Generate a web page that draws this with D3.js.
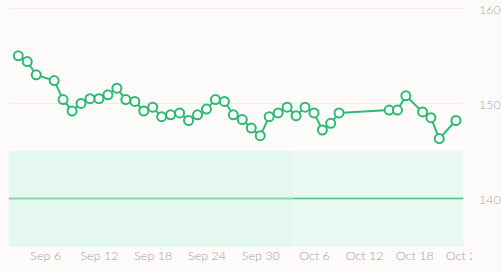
<!DOCTYPE html>
<html>
<head>
<meta charset="utf-8">
<script src="https://cdn.jsdelivr.net/npm/d3@7"></script>
<style>
  html, body { margin: 0; padding: 0; background: #fdfbfa; }
  svg { display: block; font-family: Lato, "Noto Sans", sans-serif; }
</style>
</head>
<body>
<svg id="chart" width="502" height="271"></svg>
<script>
// values (one point per day, some days missing)
const dates = ['2023-09-03','2023-09-04','2023-09-05','2023-09-07','2023-09-08','2023-09-09','2023-09-10',
  '2023-09-11','2023-09-12','2023-09-13','2023-09-14','2023-09-15','2023-09-16','2023-09-17','2023-09-18',
  '2023-09-19','2023-09-20','2023-09-21','2023-09-22','2023-09-23','2023-09-24','2023-09-25','2023-09-26',
  '2023-09-27','2023-09-28','2023-09-29','2023-09-30','2023-10-01','2023-10-02','2023-10-03','2023-10-04',
  '2023-10-05','2023-10-06','2023-10-07','2023-10-08','2023-10-09','2023-10-15','2023-10-16','2023-10-17',
  '2023-10-19','2023-10-20','2023-10-21','2023-10-23']
const values = [155.0, 154.4, 153.0, 152.4, 150.4, 149.2, 150.0,
  150.5, 150.5, 150.9, 151.6, 150.4, 150.2, 149.2, 149.6,
  148.6, 148.8, 149.0, 148.2, 148.8, 149.4, 150.4, 150.2,
  148.8, 148.3, 147.4, 146.6, 148.6, 149.0, 149.6, 148.7,
  149.6, 149.0, 147.2, 147.9, 149.0, 149.3, 149.3, 150.8,
  149.1, 148.5, 146.3, 148.2]

// target band and target line
const bandLow = 135
const bandHigh = 145
const targetValue = 140
const bandShadeSplit = '2023-10-03T17:00'

const yTicks = [140, 150, 160]
const xTicks = ['2023-09-06','2023-09-12','2023-09-18','2023-09-24','2023-09-30',
  '2023-10-06','2023-10-12','2023-10-18','2023-10-24']

const parseDay = d3.isoParse
const data = dates.map((d, i) => ({date: parseDay(d), value: values[i]}))

const svg = d3.select('#chart')
const plotLeft = 8.7, plotRight = 463.3, plotTop = 8, plotBottom = 246.5

// the source axis is squeezed after Oct 6, so the time scale has two segments
const xScale = d3.scaleTime()
  .domain([parseDay('2023-09-03'), parseDay('2023-10-06'), parseDay('2023-10-24')])
  .range([18.3, 314, 464.3])

const yScale = d3.scaleLinear()
  .domain([135, 160])
  .range([246, 8.3])

const green = '#2dba71'

// grid lines
svg.append('g')
  .selectAll('line')
  .data(yTicks.filter(v => v != targetValue))
  .join('line')
  .attr('x1', plotLeft + 1)
  .attr('x2', plotRight)
  .attr('y1', d => yScale(d))
  .attr('y2', d => yScale(d))
  .attr('stroke', '#efebe9')
  .attr('stroke-width', 1)

// band, two shades like the source
const split = xScale(parseDay(bandShadeSplit))
svg.append('rect')
  .attr('x', plotLeft)
  .attr('width', split - plotLeft)
  .attr('y', yScale(bandHigh))
  .attr('height', plotBottom - yScale(bandHigh))
  .attr('fill', '#e5f8ef')
svg.append('rect')
  .attr('x', split)
  .attr('width', plotRight - split)
  .attr('y', yScale(bandHigh))
  .attr('height', plotBottom - yScale(bandHigh))
  .attr('fill', '#e9f8f1')

svg.append('line')
  .attr('x1', plotLeft).attr('x2', split)
  .attr('y1', yScale(targetValue)).attr('y2', yScale(targetValue))
  .attr('stroke', '#86d7ad')
  .attr('stroke-width', 2)
svg.append('line')
  .attr('x1', split).attr('x2', plotRight)
  .attr('y1', yScale(targetValue)).attr('y2', yScale(targetValue))
  .attr('stroke', '#45c184')
  .attr('stroke-width', 1.5)

// y axis on the right
const yAxis = d3.axisRight(yScale).tickValues(yTicks).tickSize(0).tickPadding(0)
const yG = svg.append('g')
  .attr('transform', 'translate(479,0)')
  .call(yAxis)
yG.select('.domain').remove()
yG.selectAll('text')
  .attr('fill', '#aaa8aa')
  .attr('font-size', 12.5)
  .attr('font-weight', 300)
  .attr('font-family', 'Lato, sans-serif')
  .attr('dy', '0.4em')

// x axis, labels clipped at the right like the source
svg.append('clipPath').attr('id', 'xclip')
  .append('rect').attr('x', 0).attr('y', 240).attr('width', 472).attr('height', 31)
const xAxis = d3.axisBottom(xScale)
  .tickValues(xTicks.map(parseDay))
  .tickFormat(d3.timeFormat('%b %-d'))
  .tickSize(0)
  .tickPadding(0)
const xG = svg.append('g')
  .attr('clip-path', 'url(#xclip)')
  .append('g')
  .attr('transform', 'translate(0,251)')
  .call(xAxis)
xG.select('.domain').remove()
xG.selectAll('text')
  .attr('fill', '#a3a1a3')
  .attr('font-size', 12.5)
  .attr('font-weight', 300)
  .attr('font-family', 'Lato, sans-serif')
  .attr('dy', '0.71em')

// series line; missing days just give longer segments
const line = d3.line()
  .x(d => xScale(d.date))
  .y(d => yScale(d.value))

svg.append('path')
  .datum(data)
  .attr('d', line)
  .attr('fill', 'none')
  .attr('stroke', green)
  .attr('stroke-width', 2)

svg.append('g')
  .selectAll('circle')
  .data(data)
  .join('circle')
  .attr('cx', d => xScale(d.date))
  .attr('cy', d => yScale(d.value))
  .attr('r', 4.5)
  .attr('fill', '#fefdfd')
  .attr('stroke', green)
  .attr('stroke-width', 2)
</script>
</body>
</html>
